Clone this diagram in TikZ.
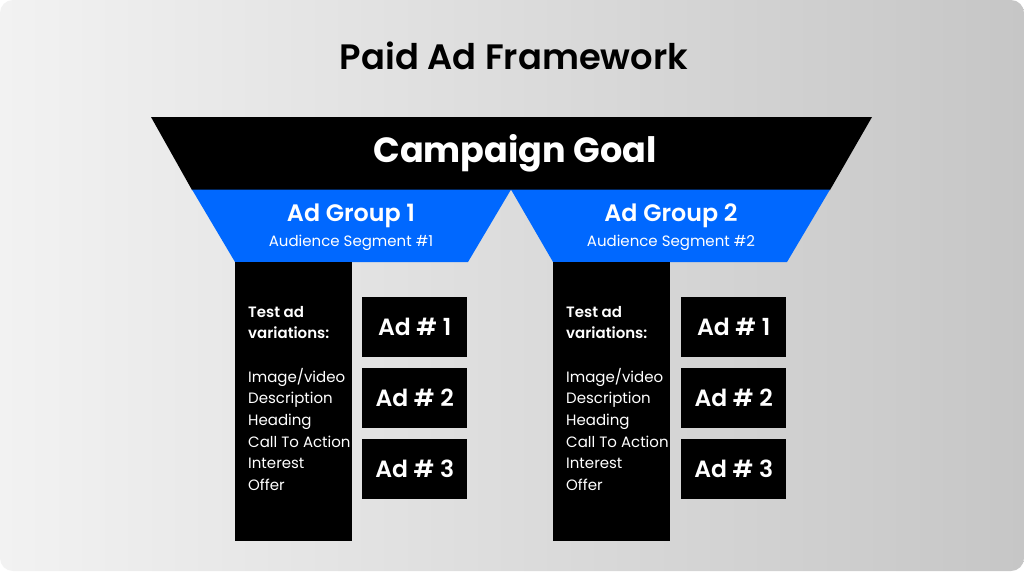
\documentclass[tikz,border=0pt]{standalone}
\usepackage{fontspec}
\setmainfont{Poppins}
\newfontfamily\psemi{Poppins SemiBold}
\definecolor{adblue}{RGB}{0,104,255}
\definecolor{bgleft}{RGB}{242,242,242}
\definecolor{bgright}{RGB}{198,198,198}
\begin{document}
\begin{tikzpicture}[x=1pt,y=-1pt,
  col/.style={fill=black,draw=none,inner sep=0,minimum width=117pt,minimum height=279pt,anchor=north west},
  adbox/.style={fill=black,draw=none,inner sep=0,minimum width=105pt,minimum height=60pt,anchor=north west,text=white,font=\psemi\fontsize{23.5}{25}\selectfont},
  listtext/.style={anchor=base west,inner sep=0,text=white,font=\fontsize{15}{18}\selectfont},
  listhead/.style={listtext,font=\psemi\fontsize{15}{18}\selectfont},
  grouptitle/.style={anchor=base,inner sep=0,text=white,font=\psemi\fontsize{23.8}{26}\selectfont},
  groupsub/.style={anchor=base,inner sep=0,text=white,font=\fontsize{15}{17}\selectfont}]
\useasboundingbox (0,0) rectangle (1024,571);
\fill[white] (0,0) rectangle (1024,571);
\shade[left color=bgleft,right color=bgright,rounded corners=13pt] (0,0) rectangle (1024,571);
% title
\node[anchor=base,inner sep=0,font=\psemi\fontsize{35.3}{38}\selectfont] (title) at (514,69) {Paid Ad Framework};
% funnel top
\fill[black] (151,117) -- (872,117) -- (830,190) -- (192,190) -- cycle;
\node[anchor=base,inner sep=0,text=white,font=\bfseries\fontsize{35}{38}\selectfont] (goal) at (515,162) {Campaign Goal};
% blue trapezoids
\fill[adblue] (192,189.5) -- (511,189.5) -- (468,262) -- (235,262) -- cycle;
\fill[adblue] (511,189.5) -- (830,189.5) -- (787,262) -- (553,262) -- cycle;
\node[grouptitle] (g1) at (351,221) {Ad Group 1};
\node[groupsub] (s1) at (351,246) {Audience Segment \#1};
\node[grouptitle] (g2) at (671,221) {Ad Group 2};
\node[groupsub] (s2) at (671,246) {Audience Segment \#2};
% columns and ads
\foreach \gx/\bx/\g in {235/362/1,553/681/2}{
  \node[col] (col\g) at (\gx,262) {};
  \node[adbox] (ad\g-1) at (\bx,297) {Ad \# 1};
  \node[adbox] (ad\g-2) at (\bx,368) {Ad \# 2};
  \node[adbox] (ad\g-3) at (\bx,439) {Ad \# 3};
  \node[listhead] (h\g-1) at (\gx+13,317) {Test ad};
  \node[listhead] (h\g-2) at (\gx+13,338.5) {variations:};
  \foreach \t [count=\i] in {Image/video,Description,Heading,Call To Action,Interest,Offer}{
    \node[listtext] (l\g-\i) at (\gx+13,{382+(\i-1)*21.7}) {\t};
  }
}
\end{tikzpicture}
\end{document}
